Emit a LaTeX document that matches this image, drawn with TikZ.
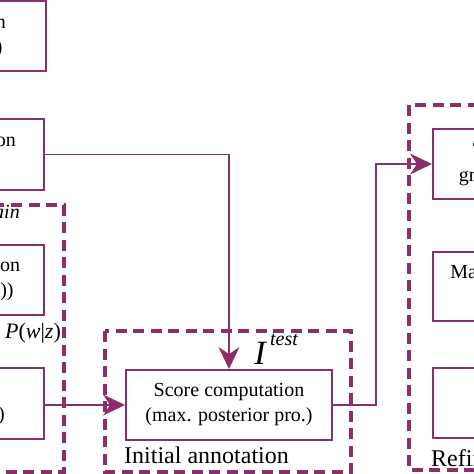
\documentclass[tikz,border=0pt]{standalone}
\usepackage{fontspec}
\setmainfont{Liberation Serif}
\usetikzlibrary{arrows.meta}
\definecolor{plum}{RGB}{139,47,107}
\tikzset{
  procbox/.style={draw=plum, line width=1.9pt, rectangle, inner sep=0pt,
    align=center, font=\fontsize{20}{25}\selectfont, text=black},
  groupbox/.style={draw=plum, line width=3.1pt, dash pattern=on 11pt off 6.5pt},
  conn/.style={draw=plum, line width=1.9pt},
  arr/.style={conn, -{Stealth[length=22pt,width=21pt,inset=7pt]}},
  biglabel/.style={font=\fontsize{24}{28}\selectfont, inner sep=0pt, text=black},
}
\begin{document}
\begin{tikzpicture}[x=1pt,y=-1pt]
\useasboundingbox (0,0) rectangle (474,474);
% group frames
\draw[groupbox] (-200,205) rectangle (64,472);
\draw[groupbox] (105,331) rectangle (351,472);
\draw[groupbox] (409,105) rectangle (700,470);
% left column
\node[procbox, minimum width=252pt, minimum height=70pt] (codebook) at (-80,36) {Codebook generation\\(k-means clustering)};
\node[procbox, minimum width=201pt, minimum height=71pt] (featx) at (-56.5,154.5) {Feature extraction\\(test)};
\node[procbox, minimum width=217pt, minimum height=70pt] (model) at (-64.5,280) {Parameter estimation\\(learning of \textit{P}(\textit{w}|\textit{z}))};
\node[procbox, minimum width=231pt, minimum height=71pt] (train) at (-71.5,403.5) {Training data\\(annotated images)};
\node[inner sep=0pt, anchor=east, font=\fontsize{20}{20}\selectfont\itshape] (itrain) at (20,216) {{\fontsize{33}{33}\selectfont I}\raisebox{9pt}{train}};
\node[inner sep=0pt, font=\fontsize{22}{22}\selectfont] (pwz) at (33,333) {\textit{P}(\textit{w}|\textit{z})};
% initial annotation
\node[procbox, minimum width=206pt, minimum height=70pt] (score) at (229,405) {Score computation\\(max. posterior pro.)};
\node[inner sep=0pt, font=\fontsize{34}{34}\selectfont\itshape] (itest) at (260,353) {I};
\node[inner sep=0pt, font=\fontsize{20}{20}\selectfont\itshape] (itestsup) at (284,340) {test};
\node[biglabel, anchor=west] (initlab) at (124,455) {Initial annotation};
% refinement
\node[procbox, minimum width=206pt, minimum height=70pt, anchor=west] (graph) at (432,164) {};
\node[align=center, inner sep=0pt, font=\fontsize{20}{25}\selectfont] (graphtxt) at (533.5,164) {Tag correlation\\graph construction};
\node[procbox, minimum width=206pt, minimum height=69pt, anchor=west] (walk) at (432,286.5) {};
\node[align=center, inner sep=0pt, font=\fontsize{20}{25}\selectfont] (walktxt) at (537,286.5) {Markov random walk\\(restart)};
\node[procbox, minimum width=206pt, minimum height=70pt, anchor=west] (final) at (432,403) {};
\node[biglabel, anchor=west] (reflab) at (431,458) {Refinement};
% connectors
\coordinate (bend) at (376,0);
\draw[arr] (featx.east) -| (score.north);
\draw[arr] (train.east |- score.west) -- (score.west);
\draw[arr] (score.east) -- (score.east -| bend) |- (graph.west);
\end{tikzpicture}
\end{document}
